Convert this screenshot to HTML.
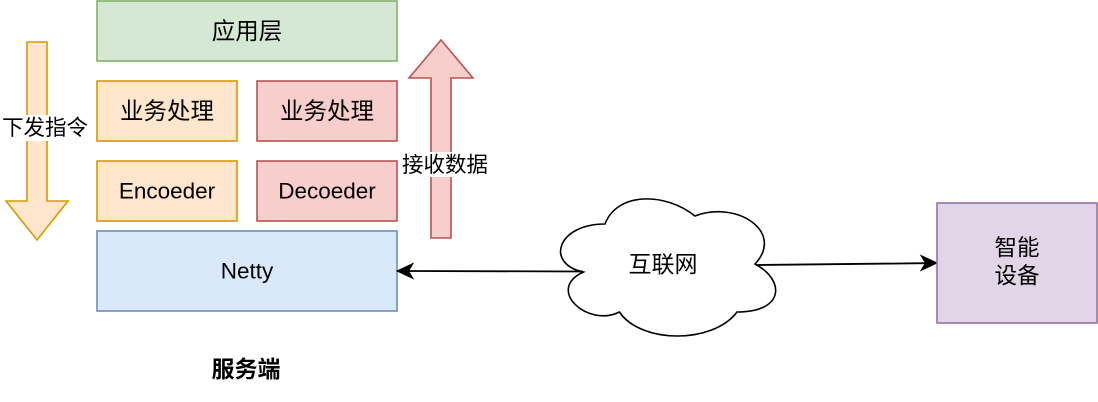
<!DOCTYPE html>
<html>
<head>
<meta charset="utf-8">
<style>
  html, body { margin:0; padding:0; background:#ffffff; }
  body { width:1098px; height:402px; overflow:hidden; position:relative; }
  svg { position:absolute; left:0; top:0; }
  text { font-family: "Liberation Sans", "Noto Sans CJK SC", sans-serif; fill:#000; }
</style>
</head>
<body>
<svg width="1098" height="402" viewBox="0 0 1098 402" xmlns="http://www.w3.org/2000/svg">
  <!-- 应用层 -->
  <rect x="97" y="1" width="300" height="60" fill="#d5e8d4" stroke="#82b366" stroke-width="1.6"/>
  <text x="247" y="31" font-size="23.5" text-anchor="middle" dominant-baseline="central">应用层</text>

  <!-- 业务处理 left -->
  <rect x="97" y="81" width="140" height="60" fill="#ffe6cc" stroke="#d79b00" stroke-width="1.6"/>
  <text x="167" y="111" font-size="23.5" text-anchor="middle" dominant-baseline="central">业务处理</text>

  <!-- 业务处理 right -->
  <rect x="257" y="81" width="140" height="60" fill="#f8cecc" stroke="#b85450" stroke-width="1.6"/>
  <text x="327" y="111" font-size="23.5" text-anchor="middle" dominant-baseline="central">业务处理</text>

  <!-- Encoeder -->
  <rect x="97" y="161" width="140" height="60" fill="#ffe6cc" stroke="#d79b00" stroke-width="1.6"/>
  <text x="167" y="191" font-size="22.5" text-anchor="middle" dominant-baseline="central">Encoeder</text>

  <!-- Decoeder -->
  <rect x="257" y="161" width="140" height="60" fill="#f8cecc" stroke="#b85450" stroke-width="1.6"/>
  <text x="327" y="191" font-size="22.5" text-anchor="middle" dominant-baseline="central">Decoeder</text>

  <!-- Netty -->
  <rect x="97" y="231" width="300" height="80" fill="#dae8fc" stroke="#6c8ebf" stroke-width="1.6"/>
  <text x="247" y="271" font-size="22.5" text-anchor="middle" dominant-baseline="central">Netty</text>

  <!-- 服务端 -->
  <text x="246" y="369" font-size="23" font-weight="bold" text-anchor="middle" dominant-baseline="central">服务端</text>

  <!-- Down arrow (下发指令) -->
  <polygon points="27,42 47,42 47,201 68,201 37,240 6,201 27,201" fill="#ffe6cc" stroke="#d79b00" stroke-width="1.6" stroke-linejoin="miter"/>
  <rect x="0" y="115" width="89" height="26" fill="#ffffff"/>
  <text x="45" y="128" font-size="21.5" text-anchor="middle" dominant-baseline="central">下发指令</text>

  <!-- Up arrow (接收数据) -->
  <polygon points="441,40 473,78 451,78 451,238 431,238 431,78 409,78" fill="#f8cecc" stroke="#b85450" stroke-width="1.6" stroke-linejoin="miter"/>
  <rect x="401" y="152" width="89" height="25" fill="#ffffff"/>
  <text x="445" y="165" font-size="21.5" text-anchor="middle" dominant-baseline="central">接收数据</text>

  <!-- Cloud -->
  <path d="M 605,224 C 557,224 545,264 583.4,272 C 545,289.6 588.2,328 619.4,312 C 641,344 713,344 737,312 C 785,312 785,280 755,264 C 785,232 737,200 695,216 C 665,192 617,192 605,224 Z" fill="#ffffff" stroke="#000000" stroke-width="1.6"/>
  <text x="663" y="264" font-size="23" text-anchor="middle" dominant-baseline="central">互联网</text>

  <!-- Edge cloud -> Netty -->
  <line x1="583" y1="271.5" x2="408" y2="271" stroke="#000" stroke-width="1.8"/>
  <polygon points="397,271 413,263.5 408.5,271 413,278.5" fill="#000" stroke="#000" stroke-width="1"/>

  <!-- Edge cloud -> device -->
  <line x1="756" y1="265" x2="926" y2="263.2" stroke="#000" stroke-width="1.8"/>
  <polygon points="937,263 921,255.5 925.5,263 921,270.5" fill="#000" stroke="#000" stroke-width="1"/>

  <!-- 智能设备 -->
  <rect x="937" y="203" width="160" height="120" fill="#e1d5e7" stroke="#9673a6" stroke-width="1.6"/>
  <text x="1017" y="248" font-size="22.5" text-anchor="middle" dominant-baseline="central">智能</text>
  <text x="1017" y="276" font-size="22.5" text-anchor="middle" dominant-baseline="central">设备</text>
</svg>
</body>
</html>
